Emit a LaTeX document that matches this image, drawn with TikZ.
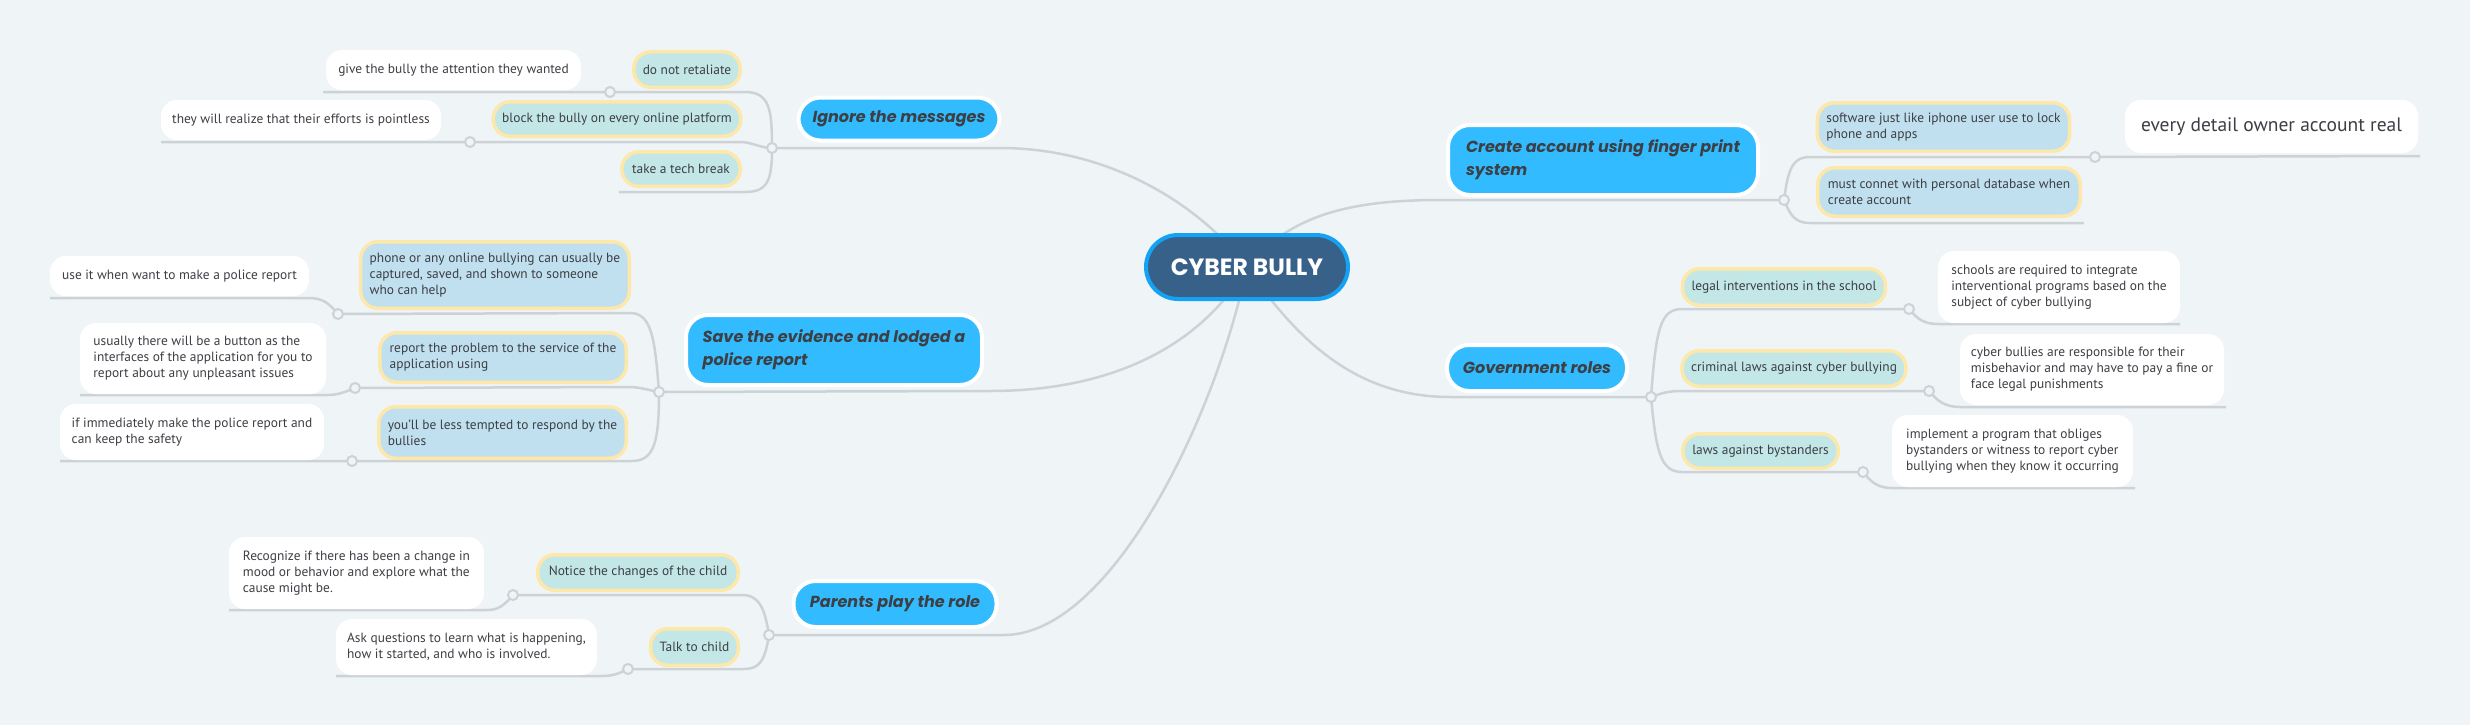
\documentclass[tikz,border=0pt]{standalone}
\usepackage{fontspec}
\setmainfont{PT Sans}
\newfontfamily\topicfont{Poppins}
\usetikzlibrary{backgrounds}

\definecolor{bgcol}{HTML}{EFF4F7}
\definecolor{linecol}{HTML}{CDD2D6}
\definecolor{rootfill}{HTML}{386189}
\definecolor{rootedge}{HTML}{14A2F4}
\definecolor{topicfill}{HTML}{33BBFF}
\definecolor{subteal}{HTML}{C3E6E7}
\definecolor{subblue}{HTML}{C1E0EF}
\definecolor{subedge}{HTML}{FDE8A9}
\definecolor{txtcol}{HTML}{3C3F44}

\tikzset{
  root/.style={draw=rootedge, line width=4pt, fill=rootfill, rounded corners=32pt, text=white,
    font=\topicfont\bfseries\fontsize{23.5}{28}\selectfont, minimum width=202pt, minimum height=64pt},
  topic/.style={draw=white, line width=4pt, fill=topicfill, rounded corners=22pt, text=txtcol,
    font=\topicfont\bfseries\itshape\fontsize{16}{23}\selectfont, inner xsep=12pt, align=left},
  sub/.style={draw=subedge, line width=3.5pt, fill=subteal, rounded corners=17pt, text=txtcol,
    font=\fontsize{13.4}{16}\selectfont, inner xsep=9pt, align=left},
  leaf/.style={fill=white, rounded corners=16pt, text=txtcol,
    font=\fontsize{13.4}{16}\selectfont, inner xsep=10pt, align=left},
  big/.style={font=\fontsize{19.5}{23}\selectfont},
  link/.style={draw=linecol, line width=2.5pt},
  knob/.style={circle, draw=linecol, line width=2pt, fill=bgcol, inner sep=0pt, minimum size=10pt},
}

\begin{document}
\begin{tikzpicture}[x=1pt,y=-1pt]
  \useasboundingbox (0,0) rectangle (2470,725);
  \begin{scope}[on background layer]
    \fill[bgcol] (0,0) rectangle (2470,725);
  \end{scope}

  \coordinate (j1) at (772,148);
  \coordinate (j2) at (659,392);
  \coordinate (j3) at (769,635);
  \coordinate (j4) at (1784,200);
  \coordinate (j5) at (1651,397);
  \coordinate (d11) at (610,92);
  \coordinate (d12) at (470,142);
  \coordinate (d21) at (338,314);
  \coordinate (d22) at (355,388);
  \coordinate (d23) at (352,461);
  \coordinate (d31) at (513,595);
  \coordinate (d32) at (628,669);
  \coordinate (d41) at (2095,157);
  \coordinate (d51) at (1909,309);
  \coordinate (d52) at (1929,391);
  \coordinate (d53) at (1863,472);
  \coordinate (e11) at (323,92);
  \coordinate (e12) at (161,142);
  \coordinate (e13) at (619,192);
  \coordinate (e21) at (50,298);
  \coordinate (e22) at (80,395);
  \coordinate (e23) at (60,461);
  \coordinate (e31) at (229,610);
  \coordinate (e32) at (336,676);
  \coordinate (e41) at (2420,156);
  \coordinate (e42) at (2084,223);
  \coordinate (e51) at (2180,324);
  \coordinate (e52) at (2226,407);
  \coordinate (e53) at (2135,488);

  \node[root] (cb) at (1247,267) {CYBER BULLY};

  \node[topic, minimum width=201pt, minimum height=43pt] (t1) at (899,119) {Ignore the messages};
  \node[topic, minimum width=296pt, minimum height=70pt] (t2) at (834,350) {Save the evidence and lodged a\\police report};
  \node[topic, minimum width=203pt, minimum height=46pt] (t3) at (895,604) {Parents play the role};
  \node[topic, minimum width=310pt, minimum height=70pt] (t4) at (1603,160) {Create account using finger print\\system};
  \node[topic, minimum width=180pt, minimum height=46pt] (t5) at (1537,368) {Government roles};

  \node[sub, minimum width=106.5pt, minimum height=35.5pt] (s11) at (687,69.5) {do not retaliate};
  \node[sub, minimum width=246.5pt, minimum height=34.5pt] (s12) at (617,119) {block the bully on every online platform};
  \node[sub, minimum width=118.5pt, minimum height=34.5pt] (s13) at (681,169) {take a tech break};
  \node[sub, fill=subblue, minimum width=262.5pt, minimum height=66.5pt] (s21) at (495,275) {phone or any online bullying can usually be\\captured, saved, and shown to someone\\who can help};
  \node[sub, fill=subblue, minimum width=246.5pt, minimum height=49.5pt] (s22) at (503,357.5) {report the problem to the service of the\\application using};
  \node[sub, fill=subblue, minimum width=247.5pt, minimum height=51.5pt] (s23) at (502.5,432.5) {you'll be less tempted to respond by the\\bullies};
  \node[sub, minimum width=200.5pt, minimum height=35.5pt] (s31) at (638,572.5) {Notice the changes of the child};
  \node[sub, minimum width=87.5pt, minimum height=36.5pt] (s32) at (694.5,647) {Talk to child};
  \node[sub, fill=subblue, minimum width=251.5pt, minimum height=48.5pt] (s41) at (1943.5,127) {software just like iphone user use to lock\\phone and apps};
  \node[sub, fill=subblue, minimum width=262.5pt, minimum height=48.5pt] (s42) at (1949,192) {must connet with personal database when\\create account};
  \node[sub, minimum width=202.5pt, minimum height=36.5pt] (s51) at (1784,287) {legal interventions in the school};
  \node[sub, minimum width=222.5pt, minimum height=35.5pt] (s52) at (1794,368.5) {criminal laws against cyber bullying};
  \node[sub, minimum width=155.5pt, minimum height=34.5pt] (s53) at (1760.5,451) {laws against bystanders};

  \node[leaf, minimum width=255pt, minimum height=40pt] (l11) at (453.5,70) {give the bully the attention they wanted};
  \node[leaf, minimum width=280pt, minimum height=40pt] (l12) at (301,120) {they will realize that their efforts is pointless};
  \node[leaf, minimum width=259pt, minimum height=40pt] (l21) at (179.5,276) {use it when want to make a police report};
  \node[leaf, minimum width=246pt, minimum height=71pt] (l22) at (203,358.5) {usually there will be a button as the\\interfaces of the application for you to\\report about any unpleasant issues};
  \node[leaf, minimum width=264pt, minimum height=56pt] (l23) at (192,432) {if immediately make the police report and\\can keep the safety};
  \node[leaf, minimum width=255pt, minimum height=72pt] (l31) at (356.5,573) {Recognize if there has been a change in\\mood or behavior and explore what the\\cause might be.};
  \node[leaf, minimum width=261pt, minimum height=56pt] (l32) at (466.5,647) {Ask questions to learn what is happening,\\how it started, and who is involved.};
  \node[leaf, big, minimum width=293pt, minimum height=53pt] (l41) at (2271.5,126.5) {every detail owner account real};
  \node[leaf, minimum width=242pt, minimum height=72pt] (l51) at (2059,287) {schools are required to integrate\\interventional programs based on the\\subject of cyber bullying};
  \node[leaf, minimum width=264pt, minimum height=71pt] (l52) at (2092,369.5) {cyber bullies are responsible for their\\misbehavior and may have to pay a fine or\\face legal punishments};
  \node[leaf, minimum width=241pt, minimum height=72pt] (l53) at (2012.5,451) {implement a program that obliges\\bystanders or witness to report cyber\\bullying when they know it occurring};

  \begin{scope}[on background layer]
    \draw[link] (cb.center) .. controls (1200,205) and (1110,148) .. (1000,148) -- (j1);
    \draw[link] (cb.center) .. controls (1205,340) and (1120,391) .. (990,391) -- (j2);
    \draw[link] (cb.center) .. controls (1215,420) and (1110,635) .. (1004,635) -- (j3);
    \draw[link] (cb.center) .. controls (1290,215) and (1350,200) .. (1440,200) -- (j4);
    \draw[link] (cb.center) .. controls (1300,345) and (1360,397) .. (1450,397) -- (j5);

    \draw[link] (j1) .. controls (772,110) and (770,92) .. (745,92) -- (d11) -- (e11);
    \draw[link] (j1) .. controls (760,148) and (752,142) .. (740,142) -- (d12) -- (e12);
    \draw[link] (j1) .. controls (772,180) and (768,192) .. (745,192) -- (e13);

    \draw[link] (j2) .. controls (655,340) and (652,313) .. (630,313) -- (d21);
    \draw[link] (j2) .. controls (648,390) and (640,387) .. (628,387) -- (d22);
    \draw[link] (j2) .. controls (659,440) and (655,461) .. (632,461) -- (d23) -- (e23);
    \draw[link] (d21) .. controls (328,302) and (322,298) .. (308,298) -- (e21);
    \draw[link] (d22) .. controls (345,392) and (338,395) .. (327,395) -- (e22);

    \draw[link] (j3) .. controls (765,610) and (760,595) .. (742,595) -- (d31);
    \draw[link] (j3) .. controls (765,660) and (760,669) .. (744,669) -- (d32);
    \draw[link] (d31) .. controls (503,607) and (497,610) .. (487,610) -- (e31);
    \draw[link] (d32) .. controls (618,674) and (612,676) .. (602,676) -- (e32);

    \draw[link] (j4) .. controls (1788,170) and (1792,157) .. (1810,157) -- (d41) -- (e41);
    \draw[link] (j4) .. controls (1790,215) and (1795,223) .. (1810,223) -- (e42);

    \draw[link] (j5) .. controls (1656,330) and (1660,309) .. (1682,309) -- (d51);
    \draw[link] (j5) .. controls (1662,393) and (1668,391) .. (1682,391) -- (d52);
    \draw[link] (j5) .. controls (1656,450) and (1660,472) .. (1682,472) -- (d53);
    \draw[link] (d51) .. controls (1918,320) and (1925,324) .. (1938,324) -- (e51);
    \draw[link] (d52) .. controls (1938,402) and (1946,407) .. (1960,407) -- (e52);
    \draw[link] (d53) .. controls (1872,484) and (1880,488) .. (1892,488) -- (e53);
  \end{scope}

  \foreach \k in {j1,j2,j3,j4,j5,d11,d12,d21,d22,d23,d31,d32,d41,d51,d52,d53}
    \node[knob] at (\k) {};
\end{tikzpicture}
\end{document}
